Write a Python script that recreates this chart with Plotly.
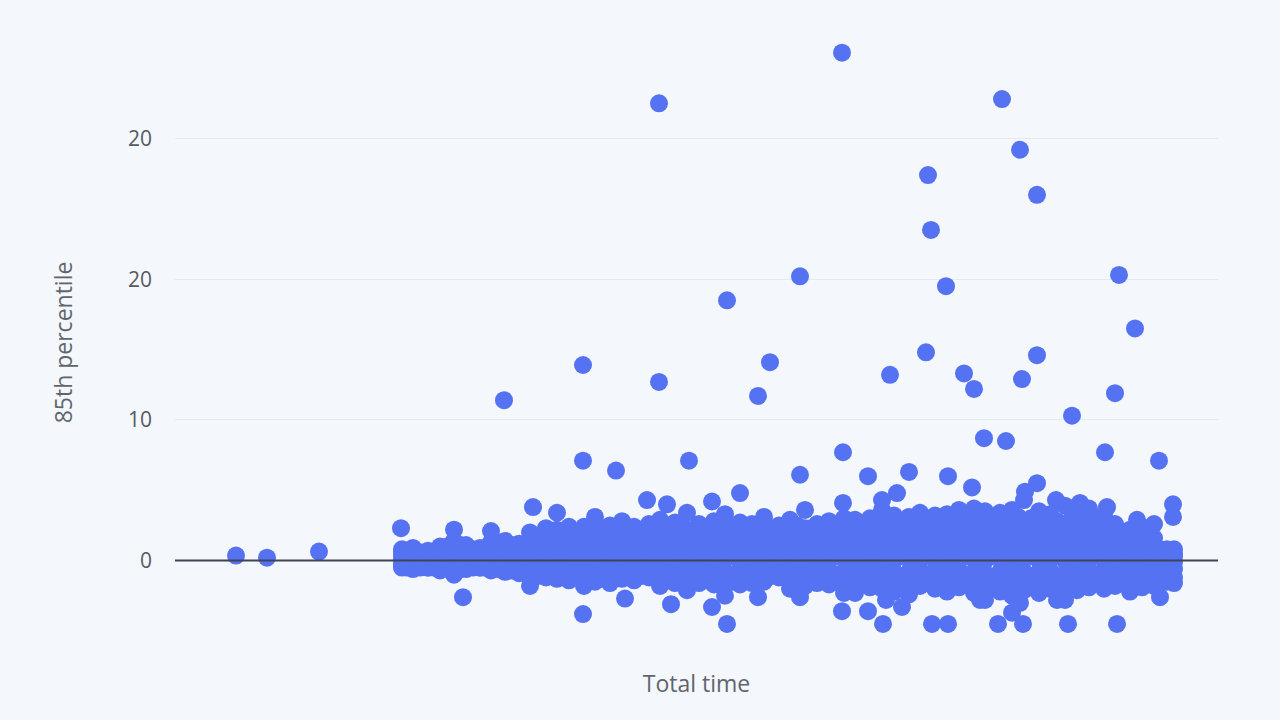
import plotly.graph_objects as go

# dense band of points around zero (x = time, y = value)
band_x = [22.7, 23.8, 25.3, 26.5, 27.9, 29.1, 30.5, 31.6, 33.0, 34.4,
          35.5, 37.1, 38.2, 39.4, 40.9, 42.0, 43.5, 44.7, 45.9, 47.4,
          48.5, 50.0, 51.2, 52.4, 53.9, 55.0, 56.5, 57.7, 58.9, 60.4,
          61.5, 63.0, 64.2, 65.4, 66.9, 68.0, 69.5, 70.7, 71.9, 73.4,
          74.5, 76.0, 77.2, 78.4, 79.9, 81.0, 82.5, 83.7, 84.9, 86.4,
          87.5, 89.0, 90.2, 91.4, 92.9, 94.0, 95.5, 96.7, 97.9, 99.2, 99.9]

band_top = [0.8, 0.9, 0.7, 1.0, 2.2, 1.1, 0.9, 2.1, 1.4, 1.2,
            2.0, 2.3, 3.4, 2.4, 2.4, 3.1, 2.5, 2.8, 2.4, 2.6,
            2.9, 2.7, 3.4, 2.6, 2.8, 3.3, 2.7, 2.6, 3.1, 2.5,
            2.9, 3.6, 2.6, 2.8, 3.0, 2.9, 3.0, 3.6, 3.2, 3.1,
            3.4, 3.2, 3.3, 3.6, 3.7, 3.5, 3.4, 3.6, 4.3, 3.5,
            3.3, 3.9, 3.5, 3.7, 3.2, 2.6, 2.2, 2.4, 2.6, 0.8, 0.8]

band_u2 = [0.6, 0.6, 0.5, 0.7, 1.4, 0.8, 0.7, 1.3, 1.0, 0.9,
           1.3, 1.5, 2.2, 1.6, 1.5, 2.0, 1.6, 1.8, 1.5, 1.7,
           1.9, 1.7, 2.2, 1.6, 1.8, 2.1, 1.7, 1.6, 2.0, 1.6,
           1.9, 2.3, 1.7, 1.8, 1.9, 1.9, 2.0, 2.3, 2.1, 2.0,
           2.2, 2.1, 2.1, 2.3, 2.4, 2.3, 2.2, 2.4, 2.8, 2.3,
           2.1, 2.5, 2.3, 2.4, 2.1, 1.7, 1.4, 1.6, 1.6, 0.6, 0.5]

band_hi = [0.4, 0.3, 0.4, 0.5, 0.6, 0.5, 0.4, 0.6, 0.5, 0.6,
           0.7, 0.7, 1.1, 0.8, 0.6, 0.9, 0.8, 0.8, 0.7, 0.8,
           0.9, 0.8, 1.1, 0.7, 0.8, 1.0, 0.8, 0.7, 0.9, 0.7,
           0.9, 1.1, 0.8, 0.9, 0.9, 0.8, 0.9, 1.1, 1.0, 0.9,
           1.0, 1.0, 1.0, 1.1, 1.1, 1.1, 1.0, 1.2, 1.3, 1.1,
           1.0, 1.2, 1.1, 1.1, 1.0, 0.8, 0.7, 0.8, 0.7, 0.4, 0.3]

band_mid = [0.1, 0.0, 0.1, 0.0, 0.1, 0.0, -0.1, 0.2, 0.0, 0.1,
            0.0, 0.1, 0.2, 0.0, -0.1, 0.1, 0.0, 0.1, -0.1, 0.0,
            0.1, 0.0, 0.2, -0.1, 0.0, 0.1, 0.0, -0.1, 0.1, 0.0,
            0.1, 0.0, 0.1, 0.0, 0.1, -0.1, 0.0, 0.1, 0.0, 0.1,
            0.0, 0.1, -0.1, 0.0, 0.1, 0.0, 0.1, 0.0, 0.1, 0.0,
            0.1, 0.0, 0.1, 0.0, 0.1, 0.0, -0.1, 0.0, 0.1, 0.0, -0.1]

band_lo = [-0.2, -0.3, -0.2, -0.3, -0.4, -0.3, -0.4, -0.2, -0.3, -0.4,
           -0.6, -0.5, -0.5, -0.6, -0.7, -0.6, -0.7, -0.5, -0.6, -0.5,
           -0.7, -0.6, -0.7, -0.7, -0.6, -0.8, -0.6, -0.7, -0.5, -0.5,
           -0.7, -0.6, -0.6, -0.7, -0.8, -0.8, -0.7, -0.7, -0.8, -0.8,
           -0.7, -0.7, -0.8, -0.7, -0.8, -0.9, -0.8, -0.8, -0.8, -0.8,
           -0.7, -0.9, -0.7, -0.7, -0.7, -0.6, -0.8, -0.7, -0.6, -0.5, -0.6]

band_l2 = [-0.4, -0.4, -0.5, -0.5, -0.7, -0.4, -0.5, -0.5, -0.6, -0.7,
           -1.2, -0.9, -0.9, -1.0, -1.2, -1.1, -1.1, -0.9, -1.0, -0.9,
           -1.2, -1.1, -1.4, -1.1, -1.2, -1.6, -1.2, -1.1, -1.0, -0.9,
           -1.3, -1.2, -1.1, -1.2, -1.5, -1.5, -1.3, -1.4, -1.5, -1.6,
           -1.3, -1.4, -1.5, -1.3, -1.6, -1.8, -1.5, -1.6, -1.4, -1.5,
           -1.4, -1.8, -1.4, -1.3, -1.4, -1.2, -1.5, -1.3, -1.2, -1.1, -1.2]

band_bot = [-0.5, -0.6, -0.5, -0.7, -1.0, -0.6, -0.5, -0.7, -0.8, -0.9,
            -1.8, -1.2, -1.3, -1.4, -1.8, -1.5, -1.6, -1.3, -1.4, -1.2,
            -1.8, -1.6, -2.1, -1.6, -1.7, -2.5, -1.7, -1.6, -1.5, -1.2,
            -2.0, -1.8, -1.6, -1.7, -2.3, -2.3, -1.9, -2.0, -2.2, -2.4,
            -1.8, -2.0, -2.2, -1.9, -2.3, -2.8, -2.2, -2.5, -2.1, -2.3,
            -2.0, -2.8, -2.1, -1.9, -2.0, -1.8, -2.2, -1.9, -1.8, -1.5, -1.6]

# second, staggered set of band points between the columns above
band_x_mid = [23.2, 24.5, 25.9, 27.2, 28.5, 29.8, 31.0, 32.3, 33.7, 35.0,
              36.3, 37.6, 38.8, 40.1, 41.4, 42.7, 44.1, 45.3, 46.6, 47.9,
              49.2, 50.6, 51.8, 53.1, 54.4, 55.7, 57.1, 58.3, 59.6, 60.9,
              62.2, 63.6, 64.8, 66.1, 67.4, 68.7, 70.1, 71.3, 72.6, 73.9,
              75.2, 76.6, 77.8, 79.1, 80.4, 81.7, 83.1, 84.3, 85.6, 86.9,
              88.2, 89.6, 90.8, 92.1, 93.4, 94.7, 96.1, 97.3, 98.5, 99.5]

mid_a1 = [0.7, 0.6, 0.6, 1.0, 1.1, 0.8, 0.9, 1.3, 1.1, 1.1,
          1.7, 2.0, 2.1, 2.0, 2.0, 2.1, 2.1, 2.0, 2.0, 2.2,
          2.2, 2.3, 2.2, 2.1, 2.3, 2.3, 2.1, 2.2, 2.1, 2.1,
          2.5, 2.3, 2.2, 2.3, 2.4, 2.4, 2.6, 2.7, 2.6, 2.6,
          2.7, 2.6, 2.7, 2.9, 2.9, 2.8, 2.8, 3.1, 3.0, 2.7,
          2.8, 2.9, 2.9, 2.7, 2.2, 1.9, 1.8, 2.0, 0.8, 0.7]

mid_a2 = [0.5, 0.4, 0.5, 0.8, 0.8, 0.6, 0.7, 0.8, 0.7, 0.9,
          1.0, 1.4, 1.4, 1.1, 1.2, 1.3, 1.2, 1.2, 1.2, 1.3,
          1.3, 1.4, 1.4, 1.2, 1.4, 1.4, 1.2, 1.3, 1.3, 1.3,
          1.5, 1.5, 1.3, 1.4, 1.4, 1.4, 1.6, 1.6, 1.5, 1.5,
          1.6, 1.5, 1.6, 1.7, 1.7, 1.6, 1.7, 1.9, 1.9, 1.6,
          1.7, 1.8, 1.7, 1.6, 1.4, 1.1, 1.1, 1.2, 0.6, 0.5]

mid_a3 = [0.2, 0.2, 0.2, 0.3, 0.3, 0.2, 0.3, 0.3, 0.3, 0.3,
          0.4, 0.5, 0.5, 0.3, 0.4, 0.4, 0.4, 0.4, 0.4, 0.5,
          0.4, 0.5, 0.5, 0.3, 0.5, 0.5, 0.4, 0.4, 0.4, 0.4,
          0.5, 0.5, 0.5, 0.5, 0.4, 0.4, 0.5, 0.6, 0.5, 0.5,
          0.5, 0.5, 0.5, 0.6, 0.6, 0.5, 0.6, 0.6, 0.6, 0.5,
          0.6, 0.6, 0.6, 0.5, 0.5, 0.4, 0.4, 0.4, 0.3, 0.2]

mid_a5 = [-0.3, -0.4, -0.4, -0.5, -0.5, -0.4, -0.4, -0.4, -0.5, -0.7,
          -0.8, -0.7, -0.8, -0.9, -0.9, -0.9, -0.8, -0.8, -0.7, -0.8,
          -0.9, -1.0, -1.0, -0.9, -1.0, -1.1, -0.9, -0.8, -0.7, -0.9,
          -1.0, -0.9, -0.9, -1.0, -1.2, -1.1, -1.0, -1.1, -1.2, -1.1,
          -1.0, -1.1, -1.1, -1.1, -1.3, -1.2, -1.2, -1.1, -1.1, -1.1,
          -1.2, -1.2, -1.0, -1.0, -1.0, -1.0, -1.1, -0.9, -0.8, -0.9]

mid_a6 = [-0.5, -0.5, -0.5, -0.6, -0.6, -0.5, -0.5, -0.6, -0.7, -0.9,
          -1.1, -1.0, -1.1, -1.2, -1.3, -1.3, -1.1, -1.1, -1.1, -1.1,
          -1.4, -1.4, -1.4, -1.4, -1.5, -1.5, -1.4, -1.3, -1.1, -1.2,
          -1.5, -1.4, -1.4, -1.5, -1.9, -1.6, -1.6, -1.7, -1.9, -1.6,
          -1.6, -1.7, -1.7, -1.7, -2.0, -1.9, -1.9, -1.8, -1.8, -1.7,
          -1.8, -1.9, -1.6, -1.6, -1.5, -1.6, -1.6, -1.5, -1.3, -1.4]

# scattered points away from the band
outlier_x = [6.1, 9.2, 14.4, 22.6, 32.9, 28.8, 35.8, 40.8, 40.8, 44.1,
             40.8, 45.0, 48.4, 48.4, 51.4, 47.2, 49.2, 49.6, 55.2, 55.2,
             53.7, 53.7, 59.5, 58.3, 56.5, 58.3, 62.5, 62.5, 62.5, 66.7,
             66.8, 66.8, 66.7, 69.3, 69.3, 71.5, 72.2, 70.7, 70.8, 71.1,
             72.7, 73.4, 75.3, 75.6, 77.1, 75.1, 78.9, 79.9, 80.9, 77.3,
             75.7, 77.3, 79.7, 82.7, 84.5, 86.2, 83.1, 84.7, 86.2, 86.2,
             85.0, 82.3, 84.8, 84.5, 83.7, 88.1, 90.5, 89.7, 89.3, 93.2,
             94.4, 96.0, 94.0, 93.0, 98.4, 94.2, 99.8, 99.8, 98.5, 96.2,
             80.5, 88.2]
outlier_y = [0.36, 0.21, 0.64, 2.3, 11.4, -2.6, 3.8, 13.9, 7.1, 6.4,
             -3.8, -2.7, 32.5, 12.7, 7.1, 4.3, 4.0, -3.1, 18.5, -4.5,
             -3.3, 4.2, 14.1, 11.7, 4.8, -2.6, 20.2, 6.1, -2.6, 36.1,
             7.7, 4.1, -3.6, 6.0, -3.6, 13.2, 4.8, 4.3, -4.5, -2.8,
             -3.3, 6.3, 27.4, 23.5, 19.5, 14.8, 13.3, 12.2, 8.7, 6.0,
             -4.5, -4.5, 5.2, 32.8, 29.2, 26.0, 8.5, 12.9, 14.6, 5.5,
             4.9, -4.5, -4.5, -3.0, -3.7, 4.3, 4.1, 10.3, -4.5, 3.8,
             20.3, 16.5, 11.9, 7.7, 7.1, -4.5, 4.0, 3.1, -2.6, 2.9,
             -2.8, -2.8]

y_ticks = [0, 10, 20, 30]
y_tick_labels = ["0", "10", "20", "20"]

band_rows = [band_top, band_u2, band_hi, band_mid, band_lo, band_l2, band_bot]
mid_rows = [mid_a1, mid_a2, mid_a3, mid_a5, mid_a6]

all_x, all_y = [], []
for row in band_rows:
    all_x += band_x[:len(row)]
    all_y += row[:len(band_x)]
for row in mid_rows:
    all_x += band_x_mid[:len(row)]
    all_y += row[:len(band_x_mid)]
all_x += outlier_x
all_y += outlier_y

dot_color = "#5572F2"
bg = "#F4F7FC"

fig = go.Figure()
fig.add_trace(go.Scatter(
    x=all_x,
    y=all_y,
    mode='markers',
    marker=dict(color=dot_color, size=18, line=dict(width=0)),
    hoverinfo='x+y',
    showlegend=False
))

# zero line sits on top of the dots
fig.add_shape(type='line', xref='x domain', yref='y', x0=0, x1=1, y0=0, y1=0,
              line=dict(color='#3E4452', width=2), layer='above')

fig.update_layout(
    width=1280,
    height=720,
    autosize=False,
    margin=dict(l=175, r=62, t=40, b=75),
    paper_bgcolor=bg,
    plot_bgcolor=bg,
    font=dict(family='Open Sans', color='#555a63'),
    xaxis=dict(
        range=[0, 104.3],
        showticklabels=False,
        showgrid=False,
        zeroline=False,
        showline=False,
        title=dict(text='Total time', font=dict(size=23, color='#60656e'), standoff=30)
    ),
    yaxis=dict(
        range=[-6, 37],
        tickvals=y_ticks,
        ticktext=y_tick_labels,
        tickfont=dict(size=21, color='#555a63'),
        ticklabelstandoff=22,
        gridcolor='#E4E9F2',
        gridwidth=1,
        zeroline=False,
        showline=False,
        title=dict(text='85th percentile', font=dict(size=23, color='#60656e'), standoff=48)
    )
)

fig.write_html(
    "out.html",
    config={'displayModeBar': False},
    post_script="document.body.style.margin='0';document.body.style.background='#F4F7FC';"
)
